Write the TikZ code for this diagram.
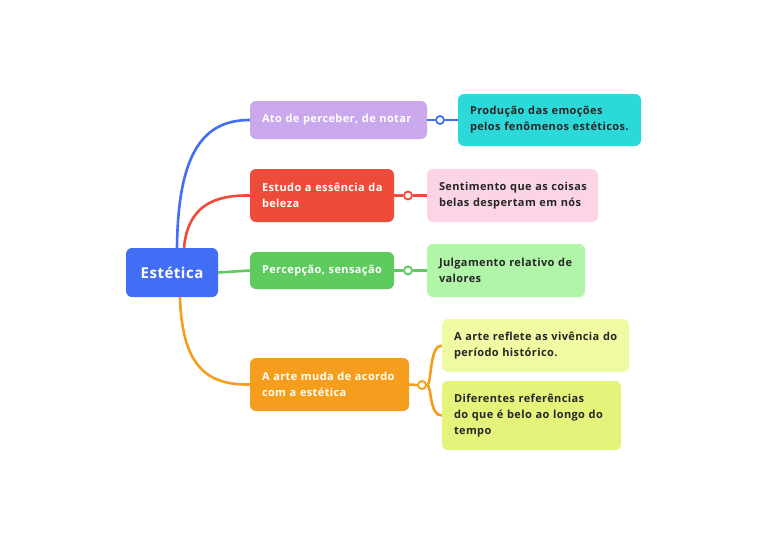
\documentclass[tikz,border=0pt]{standalone}
\usepackage{fontspec}
\setmainfont{Open Sans}[LetterSpace=3.5]
\definecolor{cblue}{RGB}{66,110,245}
\definecolor{clav}{RGB}{201,169,236}
\definecolor{ccyan}{RGB}{43,217,217}
\definecolor{cred}{RGB}{239,75,59}
\definecolor{cpink}{RGB}{251,213,229}
\definecolor{cgreen}{RGB}{93,203,93}
\definecolor{clgreen}{RGB}{176,245,168}
\definecolor{corange}{RGB}{245,157,28}
\definecolor{cyel}{RGB}{239,250,163}
\definecolor{cyel2}{RGB}{230,243,122}
\tikzset{
  box/.style={rounded corners=6pt, inner xsep=12pt, inner ysep=0pt, align=left, font=\fontsize{11}{16}\selectfont\bfseries, anchor=center},
  branch/.style={box, text=white},
  leaf/.style={box, text=black!85},
  conn/.style={line width=2.6pt},
  dot/.style={circle, draw, line width=1.8pt, fill=white, minimum size=8pt, inner sep=0pt},
}
\newcommand\tl[1]{\mbox{#1}}
\begin{document}
\begin{tikzpicture}[x=1pt,y=-1pt]
\useasboundingbox (0,0) rectangle (768,543);
\fill[white] (0,0) rectangle (768,543);

\coordinate (e-top1) at (177,250);
\coordinate (e-top2) at (184,250);
\coordinate (e-bot) at (180,295);

% nodes
\node[branch, fill=cblue, minimum width=92pt, minimum height=49pt, font=\fontsize{15}{18}\selectfont\bfseries, align=center, inner xsep=0pt] (root) at (172,272.5) {Estética};

\node[branch, fill=clav, minimum width=177pt, minimum height=38pt, text width=153pt] (ato) at (338.5,120) {\tl{Ato de perceber, de notar}};
\node[leaf, fill=ccyan, minimum width=183pt, minimum height=52pt, text width=159pt] (prod) at (549.5,120) {\tl{Produção das emoções}\\\tl{pelos fenômenos estéticos.}};

\node[branch, fill=cred, minimum width=144pt, minimum height=53pt, text width=120pt] (est) at (322,195.5) {\tl{Estudo a essência da}\\\tl{beleza}};
\node[leaf, fill=cpink, minimum width=171pt, minimum height=53pt, text width=147pt] (sent) at (512.5,195.5) {\tl{Sentimento que as coisas}\\\tl{belas despertam em nós}};

\node[branch, fill=cgreen, minimum width=144pt, minimum height=37pt, text width=120pt] (perc) at (322,270.5) {\tl{Percepção, sensação}};
\node[leaf, fill=clgreen, minimum width=158pt, minimum height=53pt, text width=134pt] (julg) at (506,270.5) {\tl{Julgamento relativo de}\\\tl{valores}};

\node[branch, fill=corange, minimum width=159pt, minimum height=53pt, text width=135pt] (arte) at (329.5,384.5) {\tl{A arte muda de acordo}\\\tl{com a estética}};
\node[leaf, fill=cyel, minimum width=187pt, minimum height=53pt, text width=163pt] (refl) at (535.5,345.5) {\tl{A arte reflete as vivência do}\\\tl{período histórico.}};
\node[leaf, fill=cyel2, minimum width=179pt, minimum height=69pt, text width=155pt] (dif) at (531.5,415.5) {\tl{Diferentes referências}\\\tl{do que é belo ao longo do}\\\tl{tempo}};

% main branches
\draw[conn, cblue] (root.north -| e-top1) .. controls (178,150) and (205,120) .. (ato.west);
\draw[conn, cred] (root.north -| e-top2) .. controls (188,205) and (215,195) .. (est.west);
\draw[conn, cgreen] (root.east) -- (perc.west);
\draw[conn, corange] (root.south -| e-bot) .. controls (182,372) and (212,385) .. (arte.west);

% leaf links
\node[dot, draw=cblue] (d1) at (440,120) {};
\draw[conn, cblue] (ato.east) -- (d1.west);
\draw[conn, cblue] (d1.east) -- (prod.west);

\node[dot, draw=cred] (d2) at (408,195.5) {};
\draw[conn, cred] (est.east) -- (d2.west);
\draw[conn, cred] (d2.east) -- (sent.west);

\node[dot, draw=cgreen] (d3) at (408,270.5) {};
\draw[conn, cgreen] (perc.east) -- (d3.west);
\draw[conn, cgreen] (d3.east) -- (julg.west);

\node[dot, draw=corange] (d4) at (422,385) {};
\draw[conn, corange] (arte.east) -- (d4.west);
\draw[conn, corange] (d4.east) .. controls (432,385) and (429,345) .. (refl.west);
\draw[conn, corange] (d4.east) .. controls (432,385) and (429,416) .. (dif.west);
\end{tikzpicture}
\end{document}
